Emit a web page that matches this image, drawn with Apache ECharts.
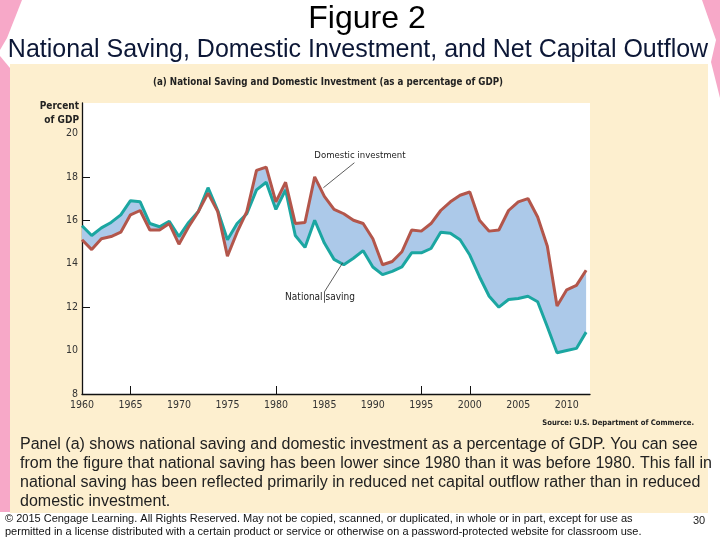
<!DOCTYPE html>
<html>
<head>
<meta charset="utf-8">
<script src="https://cdn.jsdelivr.net/npm/echarts@6/dist/echarts.min.js"></script>
<style>
  html, body { margin: 0; padding: 0; background: #fff; }
  #chart { width: 720px; height: 540px; }
</style>
</head>
<body>
<div id="chart"></div>
<script>
  // values, % of GDP
  const years = [1960, 1961, 1962, 1963, 1964, 1965, 1966, 1967, 1968, 1969,
    1970, 1971, 1972, 1973, 1974, 1975, 1976, 1977, 1978, 1979,
    1980, 1981, 1982, 1983, 1984, 1985, 1986, 1987, 1988, 1989,
    1990, 1991, 1992, 1993, 1994, 1995, 1996, 1997, 1998, 1999,
    2000, 2001, 2002, 2003, 2004, 2005, 2006, 2007, 2008, 2009,
    2010, 2011, 2012];
  const investment = [15.1, 14.65, 15.15, 15.25, 15.45, 16.25, 16.45, 15.55, 15.55, 15.85,
    14.9, 15.7, 16.4, 17.25, 16.4, 14.35, 15.45, 16.4, 18.3, 18.45,
    16.85, 17.75, 15.85, 15.9, 18.0, 17.1, 16.5, 16.3, 16.0, 15.85,
    15.15, 13.95, 14.1, 14.55, 15.55, 15.5, 15.85, 16.45, 16.85, 17.15,
    17.3, 16.0, 15.5, 15.55, 16.45, 16.85, 17.0, 16.15, 14.8, 12.05,
    12.8, 13.0, 13.7];
  const saving = [15.75, 15.3, 15.65, 15.9, 16.25, 16.9, 16.85, 15.85, 15.7, 15.95,
    15.25, 15.9, 16.4, 17.5, 16.45, 15.1, 15.85, 16.3, 17.4, 17.75,
    16.5, 17.4, 15.3, 14.75, 16.0, 14.95, 14.2, 13.95, 14.25, 14.6,
    13.85, 13.5, 13.65, 13.85, 14.5, 14.5, 14.7, 15.45, 15.4, 15.1,
    14.4, 13.4, 12.5, 12.0, 12.35, 12.4, 12.5, 12.25, 11.1, 9.9,
    10.0, 10.1, 10.85];
  const xTickYears = [1965, 1980, 1995, 2000];
  const yTickValues = [12, 16, 18];

  const bodyLines = [
    'Panel (a) shows national saving and domestic investment as a percentage of GDP. You can see',
    'from the figure that national saving has been lower since 1980 than it was before 1980. This fall in',
    'national saving has been reflected primarily in reduced net capital outflow rather than in reduced',
    'domestic investment.'
  ];
  const footLines = [
    '\u00a9 2015 Cengage Learning. All Rights Reserved. May not be copied, scanned, or duplicated, in whole or in part, except for use as',
    'permitted in a license distributed with a certain product or service or otherwise on a password-protected website for classroom use.'
  ];

  const narrow = '"Liberation Sans Narrow", "DejaVu Sans Condensed", sans-serif';
  const arial = '"Liberation Sans", Arial, sans-serif';
  const cream = '#fdefcf';
  const pink = '#f7a8c8';

  const chart = echarts.init(document.getElementById('chart'));

  const graphics = [
    // white areas around the cream panel
    { type: 'rect', shape: { x: 0, y: 0, width: 720, height: 64 }, style: { fill: '#fff' } },
    { type: 'rect', shape: { x: 0, y: 513, width: 720, height: 27 }, style: { fill: '#fff' } },
    { type: 'rect', shape: { x: 708, y: 0, width: 12, height: 540 }, style: { fill: '#fff' } },
    { type: 'rect', shape: { x: 0, y: 0, width: 10, height: 540 }, style: { fill: '#fff' } },
    // pink decorations
    { type: 'polygon', shape: { points: [[0, 0], [22, 0], [7, 38], [0, 50]] }, style: { fill: pink } },
    { type: 'polygon', shape: { points: [[0, 56], [10, 68], [10, 512], [0, 512]] }, style: { fill: pink } },
    { type: 'polygon', shape: { points: [[702, 0], [720, 0], [720, 98], [711, 62], [716, 40]] }, style: { fill: pink } },

    { type: 'text', x: 367, y: 19, style: { text: 'Figure 2', font: '32px ' + arial, fill: '#000', align: 'center', verticalAlign: 'middle' } },
    { type: 'text', x: 358, y: 50, style: { text: 'National Saving, Domestic Investment, and Net Capital Outflow', font: '25px ' + arial, fill: '#0c1736', align: 'center', verticalAlign: 'middle' } },
    { type: 'text', x: 328, y: 82, style: { text: '(a) National Saving and Domestic Investment (as a percentage of GDP)', font: 'bold 9.7px ' + narrow, fill: '#222', align: 'center', verticalAlign: 'middle' } },
    { type: 'text', x: 79, y: 106, style: { text: 'Percent', font: 'bold 10px ' + narrow, fill: '#222', align: 'right', verticalAlign: 'middle' } },
    { type: 'text', x: 79, y: 120, style: { text: 'of GDP', font: 'bold 10px ' + narrow, fill: '#222', align: 'right', verticalAlign: 'middle' } },
    { type: 'text', x: 694, y: 423, style: { text: 'Source: U.S. Department of Commerce.', font: 'bold 7.6px ' + narrow, fill: '#222', align: 'right', verticalAlign: 'middle' } },
    { type: 'text', x: 360, y: 156, style: { text: 'Domestic investment', font: '9.5px ' + narrow, fill: '#222', align: 'center', verticalAlign: 'middle' } },
    { type: 'text', x: 320, y: 297, style: { text: 'National saving', font: '10px ' + narrow, fill: '#222', align: 'center', verticalAlign: 'middle' } },
    { type: 'text', x: 693, y: 521, style: { text: '30', font: '11px ' + arial, fill: '#222', align: 'left', verticalAlign: 'middle' } }
  ];
  bodyLines.forEach(function (t, i) {
    graphics.push({ type: 'text', x: 20, y: 445 + i * 19, style: { text: t, font: '16px ' + arial, fill: '#222', align: 'left', verticalAlign: 'middle' } });
  });
  footLines.forEach(function (t, i) {
    graphics.push({ type: 'text', x: 5, y: 519 + i * 13, style: { text: t, font: '11px ' + arial, fill: '#111', align: 'left', verticalAlign: 'middle' } });
  });

  const option = {
    backgroundColor: cream,
    animation: false,
    graphic: graphics,
    grid: { left: 82, right: 130, top: 103, bottom: 146, show: true, backgroundColor: '#fff', borderWidth: 0 },
    xAxis: {
      type: 'value', min: 1960, max: 2012.4, interval: 5,
      axisLine: { lineStyle: { color: '#111', width: 1.3 } },
      axisTick: { inside: true, length: 8, customValues: xTickYears, lineStyle: { color: '#111' } },
      axisLabel: {
        margin: 6, color: '#333', fontSize: 10.5, fontFamily: narrow, showMaxLabel: false,
        formatter: function (v) { return v % 5 === 0 ? String(v) : ''; }
      },
      splitLine: { show: false }
    },
    yAxis: {
      type: 'value', min: 8, max: 21.4, interval: 2,
      axisLine: { show: true, lineStyle: { color: '#111', width: 1.3 } },
      axisTick: { show: true, inside: true, length: 8, customValues: yTickValues, lineStyle: { color: '#111' } },
      axisLabel: {
        margin: 4, color: '#333', fontSize: 10.5, fontFamily: narrow, showMaxLabel: false,
        formatter: function (v) { return v % 2 === 0 ? String(v) : ''; }
      },
      splitLine: { show: false }
    },
    series: [
      {
        type: 'custom', silent: true, z: 1,
        renderItem: function (params, api) {
          const pts = [];
          for (let i = 0; i < years.length; i++) pts.push(api.coord([years[i], investment[i]]));
          for (let i = years.length - 1; i >= 0; i--) pts.push(api.coord([years[i], saving[i]]));
          return { type: 'polygon', shape: { points: pts }, style: { fill: '#acc9e9' } };
        },
        data: [[years[0], saving[0]]]
      },
      {
        name: 'National saving', type: 'line', z: 3, showSymbol: false, silent: true,
        data: years.map(function (y, i) { return [y, saving[i]]; }),
        lineStyle: { color: '#1ba6a1', width: 3 },
        markLine: {
          silent: true, symbol: 'none', animation: false,
          lineStyle: { color: '#333', width: 0.8, type: 'solid' },
          label: { show: false },
          data: [
            [{ coord: [1984.9, 17.5] }, { coord: [1988.1, 18.65] }],
            [{ coord: [1985.0, 12.2] }, { coord: [1985.0, 12.7] }],
            [{ coord: [1985.0, 12.7] }, { coord: [1986.9, 14.05] }]
          ]
        }
      },
      {
        name: 'Domestic investment', type: 'line', z: 4, showSymbol: false, silent: true,
        data: years.map(function (y, i) { return [y, investment[i]]; }),
        lineStyle: { color: '#b3564b', width: 3 }
      }
    ]
  };
  chart.setOption(option);
</script>
</body>
</html>
